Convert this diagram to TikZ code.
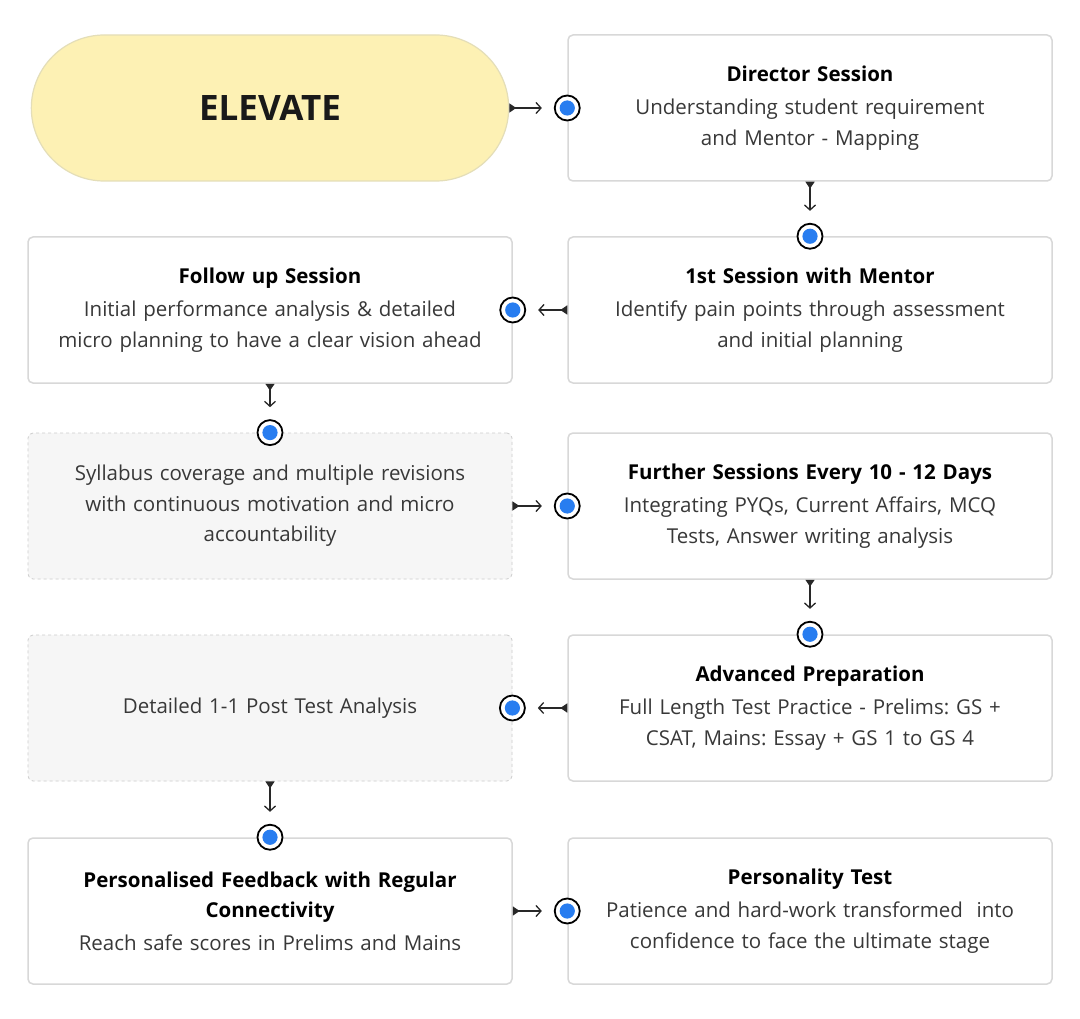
\documentclass[tikz,border=0pt]{standalone}
\usepackage{fontspec}
\setmainfont{Open Sans}
\frenchspacing
\usetikzlibrary{positioning, arrows.meta, shapes.misc}
\definecolor{boxLine}{RGB}{216,216,216}
\definecolor{dashLine}{RGB}{204,204,204}
\definecolor{dashFill}{RGB}{246,246,246}
\definecolor{elevateFill}{RGB}{253,241,180}
\definecolor{elevateLine}{RGB}{228,222,184}
\definecolor{portBlue}{RGB}{40,125,240}
\definecolor{bodyText}{RGB}{56,56,56}
\definecolor{arrowColor}{RGB}{40,40,40}
\tikzstyle{flowchart} = [x = 1pt, y = -1pt]
\tikzstyle{stepBox} = [draw=boxLine, line width=1.5pt, fill=white, rounded corners=5pt, minimum width=484pt, minimum height=146pt, inner sep=0pt, text width=476pt, align=center, text=bodyText, font=\fontsize{20.5}{30.5}\selectfont]
\tikzstyle{dashBox} = [stepBox, draw=dashLine, line width=0.8pt, dashed, fill=dashFill]
\tikzstyle{pillBox} = [rounded rectangle, draw=elevateLine, line width=1.2pt, fill=elevateFill, minimum width=484pt, minimum height=146pt, font=\fontsize{35}{40}\selectfont\bfseries, text=black!90]
\tikzstyle{portRing} = [circle, draw=black, line width=1.8pt, fill=white, minimum size=25pt, inner sep=0pt, path picture={\fill[portBlue] (path picture bounding box.center) circle (7.6pt);}]
\tikzstyle{flowArrow} = [draw=arrowColor, line width=1.3pt, {Triangle[reversed, length=7pt, width=9pt]}-{Straight Barb[length=5pt, width=11pt]}, shorten >= 12pt]
\newcommand{\stepTitle}[1]{\textcolor{black}{\bfseries #1}}

\begin{document}
\begin{tikzpicture}[flowchart]
        \useasboundingbox [fill=white] (0,0) rectangle (1080,1019);

        % boxes, left and right column
        \node [pillBox] (elevate) at (270,108) {ELEVATE};
        \node [stepBox] (director) at (810,108) {\stepTitle{Director Session}\\[3pt]
          Understanding student requirement\\and Mentor - Mapping};
        \node [stepBox] (mentorOne) at (810,310) {\stepTitle{1st Session with Mentor}\\[3pt]
          Identify pain points through assessment\\and initial planning};
        \node [stepBox] (followUp) at (270,310) {\stepTitle{Follow up Session}\\[3pt]
          Initial performance analysis \& detailed\\micro planning to have a clear vision ahead};
        \node [dashBox] (syllabus) at (270,506) {Syllabus coverage and multiple revisions\\
          with continuous motivation and micro\\accountability};
        \node [stepBox] (further) at (810,506) {\stepTitle{Further Sessions Every 10 - 12 Days}\\[3pt]
          Integrating PYQs, Current Affairs, MCQ\\Tests, Answer writing analysis};
        \node [stepBox] (advanced) at (810,708) {\stepTitle{Advanced Preparation}\\[3pt]
          Full Length Test Practice - Prelims: GS +\\CSAT, Mains: Essay + GS 1 to GS 4};
        \node [dashBox] (postTest) at (270,708) {Detailed 1-1 Post Test Analysis};
        \node [stepBox] (feedback) at (270,911) {\stepTitle{Personalised Feedback with Regular}\\
          \stepTitle{Connectivity}\\[2pt]
          Reach safe scores in Prelims and Mains};
        \node [stepBox] (personality) at (810,911) {\stepTitle{Personality Test}\\[3pt]
          Patience and hard-work transformed ~into\\confidence to face the ultimate stage};

        % ports on the receiving edges
        \node [portRing] (pDirector) at (director.west) {};
        \node [portRing] (pMentorOne) at (mentorOne.north) {};
        \node [portRing] (pFollowUp) at (followUp.east) {};
        \node [portRing] (pSyllabus) at (syllabus.north) {};
        \node [portRing] (pFurther) at (further.west) {};
        \node [portRing] (pAdvanced) at (advanced.north) {};
        \node [portRing] (pPostTest) at (postTest.east) {};
        \node [portRing] (pFeedback) at (feedback.north) {};
        \node [portRing] (pPersonality) at (personality.west) {};

        % connectors
        \draw [flowArrow] (elevate.east) -- (pDirector);
        \draw [flowArrow] (director.south) -- (pMentorOne);
        \draw [flowArrow] (mentorOne.west) -- (pFollowUp);
        \draw [flowArrow] (followUp.south) -- (pSyllabus);
        \draw [flowArrow] (syllabus.east) -- (pFurther);
        \draw [flowArrow] (further.south) -- (pAdvanced);
        \draw [flowArrow] (advanced.west) -- (pPostTest);
        \draw [flowArrow] (postTest.south) -- (pFeedback);
        \draw [flowArrow] (feedback.east) -- (pPersonality);
      \end{tikzpicture}
\end{document}
